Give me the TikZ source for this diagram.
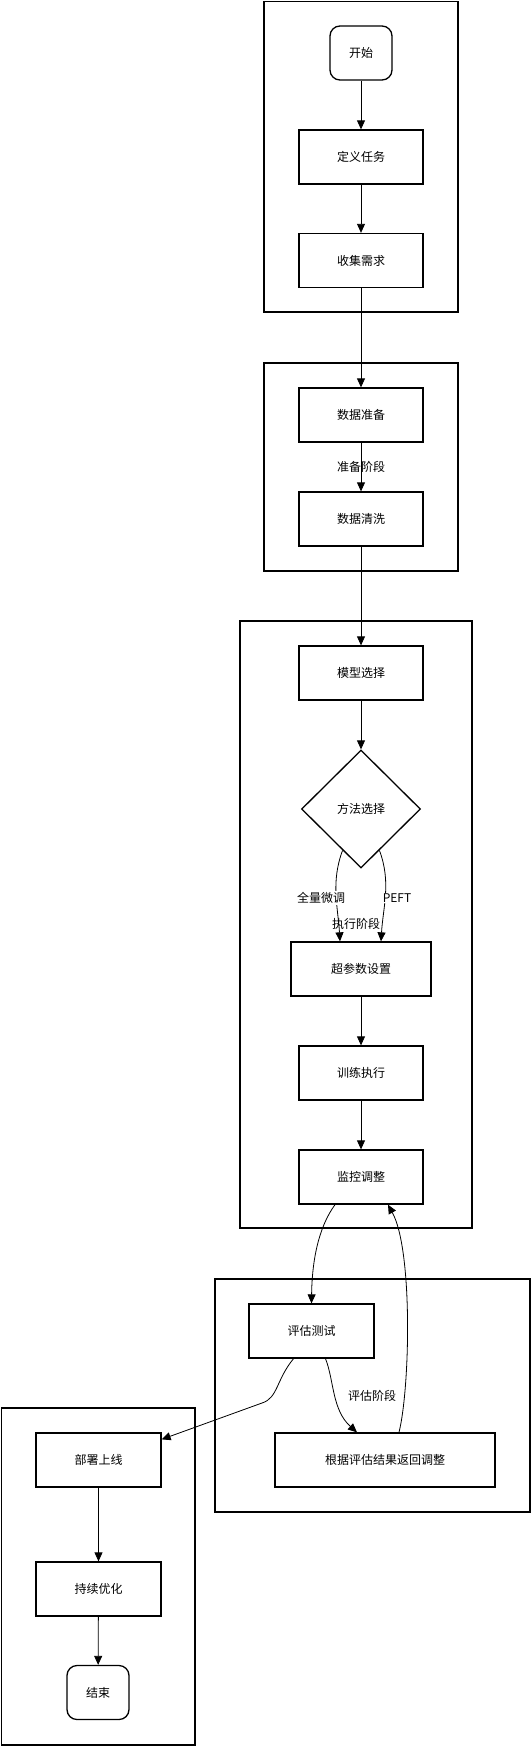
\documentclass[tikz,border=0pt]{standalone}
\usepackage{fontspec}
\setmainfont{Noto Sans CJK SC}
\usetikzlibrary{calc,arrows.meta,shapes.geometric}
\tikzset{
	stepbox/.style={draw, line width=1.3pt, minimum width=124pt, minimum height=54pt, inner sep=0pt},
	endbox/.style={stepbox, rounded corners=10pt, minimum width=62pt},
	phase/.style={draw, line width=1.6pt},
	link/.style={line width=0.8pt, -{Triangle[length=9pt,width=8pt]}},
	tag/.style={fill=white, inner sep=1pt}
}

\begin{document}
\begin{tikzpicture}[x=1pt, y=-1pt, font=\fontsize{12}{14}\selectfont]
			%%%%% START %%%%%
			\useasboundingbox (0,0) rectangle (531,1746);
			
			% groups
			\draw[phase] (264,1.5) rectangle (458,312);
			\draw[phase] (264,363) rectangle (458,571);
			\draw[phase] (240,621) rectangle (472,1228);
			\draw[phase] (215,1279) rectangle (530,1512);
			\draw[phase] (1.5,1408) rectangle (195,1745);
			
			% first group
			\node[endbox] (st) at (361,53) {开始};
			\node[stepbox] (dt) at (361,157) {定义任务};
			\node[stepbox] (gr) at (361,260.5) {收集需求};
			
			% preparation
			\node[stepbox] (prep) at (361,415) {数据准备};
			\node[stepbox] (cl) at (361,519) {数据清洗};
			\node (preplbl) at (361,467) {准备阶段};
			
			% execution
			\node[stepbox] (ms) at (361,673) {模型选择};
			\node[draw, diamond, aspect=1, line width=1.3pt, minimum width=119pt, minimum height=118pt, inner sep=0pt] (fc) at (361,809) {方法选择};
			\node[stepbox, minimum width=140pt] (hp) at (361,969) {超参数设置};
			\node[stepbox] (tr) at (361,1073) {训练执行};
			\node[stepbox] (mc) at (361,1177) {监控调整};
			
			% evaluation
			\node[stepbox, minimum width=125pt] (ev) at (311.5,1331) {评估测试};
			\node[stepbox, minimum width=220pt] (rs) at (385,1460) {根据评估结果返回调整};
			
			% deployment
			\node[stepbox, minimum width=125pt] (dep) at (98.5,1460) {部署上线};
			\node[stepbox, minimum width=125pt] (opt) at (98.5,1589) {持续优化};
			\node[endbox] (fin) at (98,1692.5) {结束};
			
			% straight links
			\draw[link] (st) -- (dt);
			\draw[link] (dt) -- (gr);
			\draw[link] (gr) -- (prep);
			\draw[link] (prep) -- (cl);
			\draw[link] (cl) -- (ms);
			\draw[link] (ms) -- (fc);
			\draw[link] (hp) -- (tr);
			\draw[link] (tr) -- (mc);
			\draw[link] (dep) -- (opt);
			\draw[link] (opt) -- (fin);
			
			% method branches
			\draw[link] (fc.-114) .. controls +(-12,32) and +(-2,-34) .. ($(hp.north)+(-21,0)$);
			\draw[link] (fc.-66) .. controls +(12,32) and +(2,-34) .. ($(hp.north)+(20,0)$);
			\node[tag] (full) at (321,898) {全量微调};
			\node[tag] (peft) at (397,898) {PEFT};
			\node (execlbl) at (356,924) {执行阶段};
			
			% loop between monitoring and evaluation
			\draw[link] ($(mc.south)+(-26,0)$) .. controls (318,1228) and (312,1262) .. (ev.north);
			\draw[link] ($(rs.north)+(14,0)$) .. controls (410,1388) and (413,1250) .. ($(mc.south)+(27,0)$);
			\draw[link] ($(ev.south)+(14,0)$) .. controls (334,1380) and (332,1410) .. ($(rs.north)+(-28,0)$);
			\node (evallbl) at (372,1396) {评估阶段};
			\draw[link] ($(ev.south)+(-18,0)$) .. controls (276,1380) and (278,1398) .. (262,1403) -- ($(dep.north east)+(0,7)$);
			
			%%%%% END %%%%%
\end{tikzpicture}
\end{document}
